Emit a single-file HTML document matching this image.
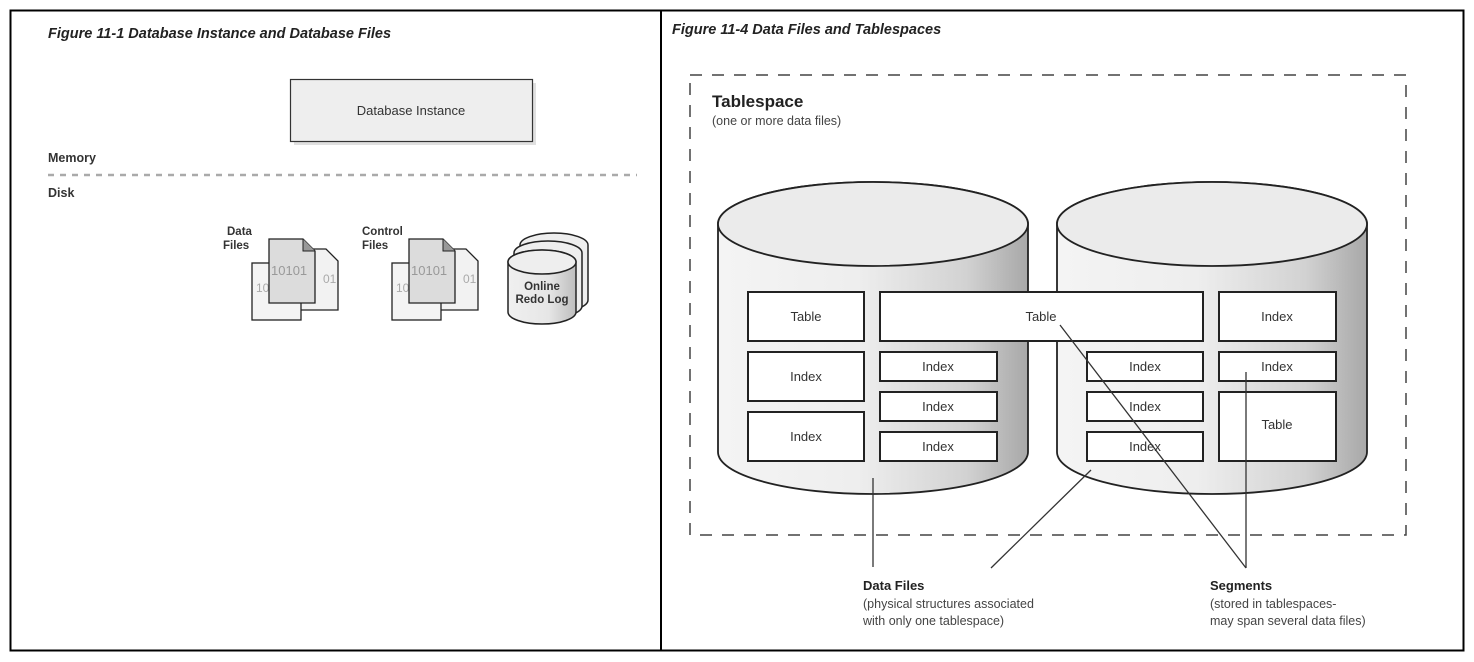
<!DOCTYPE html>
<html><head><meta charset="utf-8"><style>
html,body{margin:0;padding:0;background:#fff;}
svg{display:block;font-family:"Liberation Sans",Arial,sans-serif;}
</style></head><body>
<svg width="1474" height="662" viewBox="0 0 1474 662" xmlns="http://www.w3.org/2000/svg">
<defs>
<linearGradient id="cyl" x1="0" x2="1" y1="0" y2="0">
<stop offset="0" stop-color="#f4f4f4"/><stop offset="0.45" stop-color="#eeeeee"/><stop offset="0.8" stop-color="#d2d2d2"/><stop offset="1" stop-color="#a8a8a8"/>
</linearGradient>
<linearGradient id="cyl2" x1="0" x2="1" y1="0" y2="0">
<stop offset="0" stop-color="#f0f0f0"/><stop offset="0.6" stop-color="#e6e6e6"/><stop offset="1" stop-color="#bdbdbd"/>
</linearGradient>
</defs>
<rect x="0" y="0" width="1474" height="662" fill="#fff"/>
<!-- outer frame -->
<rect x="10.5" y="10.5" width="1453" height="640" fill="none" stroke="#000" stroke-width="2"/>
<line x1="661" y1="10" x2="661" y2="651" stroke="#000" stroke-width="2"/>

<!-- LEFT FIGURE -->
<text x="48" y="38" font-size="14.5" font-weight="bold" font-style="italic" fill="#222">Figure 11-1 Database Instance and Database Files</text>
<rect x="294" y="83" width="242" height="62" fill="#ccc" opacity="0.6"/>
<rect x="290.5" y="79.5" width="242" height="62" fill="#eeeeee" stroke="#333" stroke-width="1.2"/>
<text x="411" y="115" font-size="13" text-anchor="middle" fill="#333">Database Instance</text>
<text x="48" y="162" font-size="12.5" font-weight="bold" fill="#333">Memory</text>
<line x1="48" y1="175" x2="637" y2="175" stroke="#aaa" stroke-width="2.5" stroke-dasharray="6,6"/>
<text x="48" y="197" font-size="12.5" font-weight="bold" fill="#333">Disk</text>

<!-- Data Files -->
<g id="docs">
<text x="227" y="235" font-size="11.5" font-weight="bold" fill="#333">Data</text>
<text x="223" y="249" font-size="11.5" font-weight="bold" fill="#333">Files</text>
<path d="M296,249 L326,249 L338,261 L338,310 L296,310 Z" fill="#f2f2f2" stroke="#222" stroke-width="1.3"/>
<text x="323" y="283" font-size="12" fill="#aaa">01</text>
<rect x="252" y="263" width="49" height="57" fill="#f4f4f4" stroke="#222" stroke-width="1.3"/>
<text x="256" y="292" font-size="12" fill="#aaa">10</text>
<path d="M269,239 L303,239 L315,251 L315,303 L269,303 Z" fill="#dcdcdc" stroke="#222" stroke-width="1.3"/>
<path d="M303,239 L303,251 L315,251" fill="#999" stroke="#222" stroke-width="1"/>
<text x="271" y="275" font-size="13" fill="#999">10101</text>
</g>
<!-- Control Files -->
<g transform="translate(140,0)">
<text x="222" y="235" font-size="11.5" font-weight="bold" fill="#333">Control</text>
<text x="222" y="249" font-size="11.5" font-weight="bold" fill="#333">Files</text>
<path d="M296,249 L326,249 L338,261 L338,310 L296,310 Z" fill="#f2f2f2" stroke="#222" stroke-width="1.3"/>
<text x="323" y="283" font-size="12" fill="#aaa">01</text>
<rect x="252" y="263" width="49" height="57" fill="#f4f4f4" stroke="#222" stroke-width="1.3"/>
<text x="256" y="292" font-size="12" fill="#aaa">10</text>
<path d="M269,239 L303,239 L315,251 L315,303 L269,303 Z" fill="#dcdcdc" stroke="#222" stroke-width="1.3"/>
<path d="M303,239 L303,251 L315,251" fill="#999" stroke="#222" stroke-width="1"/>
<text x="271" y="275" font-size="13" fill="#999">10101</text>
</g>
<!-- Online Redo Log -->
<g stroke="#222" stroke-width="1.5">
<path d="M520,245 A34,12 0 0 1 588,245 L588,300 A34,12 0 0 1 520,300 Z" fill="#eee"/>
<path d="M514,253 A34,12 0 0 1 582,253 L582,306 A34,12 0 0 1 514,306 Z" fill="#eee"/>
<path d="M508,262 A34,12 0 0 1 576,262 L576,312 A34,12 0 0 1 508,312 Z" fill="url(#cyl2)"/>
<ellipse cx="542" cy="262" rx="34" ry="12" fill="#eee"/>
</g>
<text x="542" y="290" font-size="11.5" font-weight="bold" text-anchor="middle" fill="#333">Online</text>
<text x="542" y="303" font-size="11.5" font-weight="bold" text-anchor="middle" fill="#333">Redo Log</text>

<!-- RIGHT FIGURE -->
<text x="672" y="34" font-size="14.5" font-weight="bold" font-style="italic" fill="#222">Figure 11-4 Data Files and Tablespaces</text>
<rect x="690" y="75" width="716" height="460" fill="none" stroke="#444" stroke-width="1.5" stroke-dasharray="12,10"/>
<text x="712" y="107" font-size="17" font-weight="bold" fill="#222">Tablespace</text>
<text x="712" y="125" font-size="12.5" fill="#444">(one or more data files)</text>

<!-- cylinders -->
<g stroke="#222" stroke-width="1.8">
<path d="M718,224 A155,42 0 0 1 1028,224 L1028,452 A155,42 0 0 1 718,452 Z" fill="url(#cyl)"/>
<ellipse cx="873" cy="224" rx="155" ry="42" fill="#ebebeb"/>
<path d="M1057,224 A155,42 0 0 1 1367,224 L1367,452 A155,42 0 0 1 1057,452 Z" fill="url(#cyl)"/>
<ellipse cx="1212" cy="224" rx="155" ry="42" fill="#ebebeb"/>
</g>

<!-- boxes -->
<g fill="#fff" stroke="#222" stroke-width="2">
<rect x="748" y="292" width="116" height="49"/>
<rect x="880" y="292" width="323" height="49"/>
<rect x="1219" y="292" width="117" height="49"/>
<rect x="748" y="352" width="116" height="49"/>
<rect x="880" y="352" width="117" height="29"/>
<rect x="1087" y="352" width="116" height="29"/>
<rect x="1219" y="352" width="117" height="29"/>
<rect x="880" y="392" width="117" height="29"/>
<rect x="1087" y="392" width="116" height="29"/>
<rect x="1219" y="392" width="117" height="69"/>
<rect x="748" y="412" width="116" height="49"/>
<rect x="880" y="432" width="117" height="29"/>
<rect x="1087" y="432" width="116" height="29"/>
</g>
<g font-size="13" text-anchor="middle" fill="#333">
<text x="806" y="321">Table</text>
<text x="1041" y="321">Table</text>
<text x="1277" y="321">Index</text>
<text x="806" y="381">Index</text>
<text x="938" y="371">Index</text>
<text x="1145" y="371">Index</text>
<text x="1277" y="371">Index</text>
<text x="938" y="411">Index</text>
<text x="1145" y="411">Index</text>
<text x="1277" y="429">Table</text>
<text x="806" y="441">Index</text>
<text x="938" y="451">Index</text>
<text x="1145" y="451">Index</text>
</g>

<!-- leader lines -->
<g stroke="#333" stroke-width="1.3">
<line x1="873" y1="478" x2="873" y2="567"/>
<line x1="1091" y1="470" x2="991" y2="568"/>
<line x1="1060" y1="325" x2="1246" y2="568"/>
<line x1="1246" y1="372" x2="1246" y2="568"/>
</g>
<text x="863" y="590" font-size="13" font-weight="bold" fill="#222">Data Files</text>
<text x="863" y="608" font-size="12.5" fill="#444">(physical structures associated</text>
<text x="863" y="625" font-size="12.5" fill="#444">with only one tablespace)</text>
<text x="1210" y="590" font-size="13" font-weight="bold" fill="#222">Segments</text>
<text x="1210" y="608" font-size="12.5" fill="#444">(stored in tablespaces-</text>
<text x="1210" y="625" font-size="12.5" fill="#444">may span several data files)</text>
</svg>
</body></html>
